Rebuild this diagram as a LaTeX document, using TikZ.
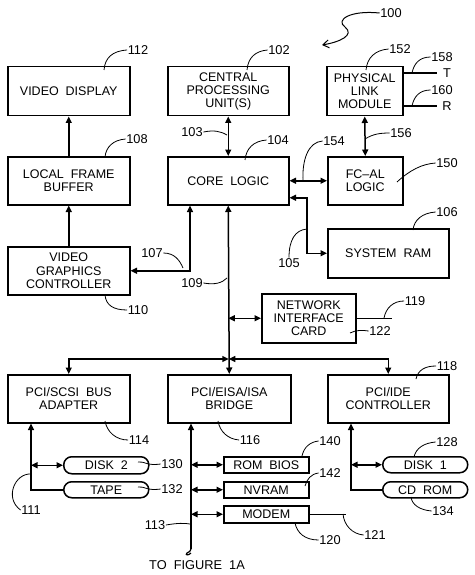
\documentclass[tikz,border=0pt]{standalone}
\usepackage{fontspec}
\setmainfont{Liberation Sans}
\usetikzlibrary{arrows.meta,calc}
\newcommand\wsp{\hspace{0.55em}}
\begin{document}
\begin{tikzpicture}[x=1pt,y=-1pt, line width=1.5pt,
 box/.style={draw, line width=1.5pt, align=center, anchor=north west, inner sep=0pt, font=\fontsize{12.5}{13.3}\selectfont},
 pill/.style={box, rounded corners=8pt},
 num/.style={font=\fontsize{12.8}{13.5}\selectfont, inner sep=0pt},
 lead/.style={line width=0.8pt},
 arr/.style={-{Triangle[length=6.5pt,width=6pt]}},
 rarr/.style={{Triangle[length=6.5pt,width=6pt]}-},
 darr/.style={{Triangle[length=6.5pt,width=6pt]}-{Triangle[length=6.5pt,width=6pt]}},
]
\useasboundingbox (0,0) rectangle (474,575);
\fill[white] (0,0) rectangle (474,575);

% boxes
\node[box, minimum width=122pt, minimum height=49pt] (vd) at (7,66) {VIDEO\wsp DISPLAY};
\node[box, minimum width=121pt, minimum height=49pt] (cpu) at (167,66) {CENTRAL\\PROCESSING\\UNIT(S)};
\node[box, minimum width=76pt, minimum height=49pt] (plm) at (326,66) {PHYSICAL\\LINK\\MODULE};
\node[box, minimum width=122pt, minimum height=48pt] (lfb) at (7,156) {LOCAL\wsp FRAME\\BUFFER};
\node[box, minimum width=121pt, minimum height=48pt] (core) at (167,156) {CORE\wsp LOGIC};
\node[box, minimum width=75pt, minimum height=48pt] (fcal) at (327,156) {FC--AL\\LOGIC};
\node[box, minimum width=121pt, minimum height=49pt] (ram) at (327,228) {SYSTEM\wsp RAM};
\node[box, minimum width=122pt, minimum height=48pt] (vgc) at (7,246) {VIDEO\\GRAPHICS\\CONTROLLER};
\node[box, minimum width=94pt, minimum height=49pt] (nic) at (261,293) {NETWORK\\INTERFACE\\CARD};
\node[box, minimum width=122pt, minimum height=48pt] (scsi) at (7,374) {PCI/SCSI\wsp BUS\\ADAPTER};
\node[box, minimum width=123pt, minimum height=48pt] (bridge) at (167,374) {PCI/EISA/ISA\\BRIDGE};
\node[box, minimum width=121pt, minimum height=48pt] (ide) at (327,374) {PCI/IDE\\CONTROLLER};
\node[pill, minimum width=85pt, minimum height=17pt] (disk2) at (63,456) {DISK\wsp 2};
\node[pill, minimum width=85pt, minimum height=16pt] (tape) at (63,481) {TAPE};
\node[box, minimum width=85pt, minimum height=16pt] (rom) at (223,456) {ROM\wsp BIOS};
\node[box, minimum width=85pt, minimum height=16pt] (nvram) at (223,481) {NVRAM};
\node[box, minimum width=85pt, minimum height=17pt] (modem) at (223,505) {MODEM};
\node[pill, minimum width=85pt, minimum height=16pt] (disk1) at (382,456) {DISK\wsp 1};
\node[pill, minimum width=85pt, minimum height=16pt] (cdrom) at (382,481) {CD\wsp ROM};

% connectors
\draw[arr] (lfb.north) -- (vd.south);
\draw[arr] (vgc.north) -- (lfb.south);
\draw[darr] (cpu.south) -- (core.north);
\draw[darr] (vgc.east) -| ($(core.south west)+(23,0)$);
\draw[darr] (core.east) -- (fcal.west);
\draw[darr] ($(core.east)+(0,17)$) -| ($(ram.west)+(-20,0)$) -- (ram.west);
\draw[darr] (plm.south) -- (fcal.north);
\node[num] (T) at (447,73) {T};
\node[num] (R) at (447,106) {R};
\draw (plm.east |- T.west) -- ($(T.west)+(-5,0)$);
\draw (plm.east |- R.west) -- ($(R.west)+(-5,0)$);
\draw[darr] (core.south) -- (bridge.north);
\coordinate (junc) at ($(core.south)!0.5!(bridge.north)$);
\coordinate (junc) at (junc |- 0,359);
\draw[darr] (scsi.north) |- (junc);
\draw[darr] (ide.north) |- (junc);
\draw[darr] (nic.west) -- (nic.west -| core.south);
\coordinate (n119) at (392,318);
\draw (nic.east) -- (n119 |- nic.east);
\coordinate (s1) at ($(scsi.south west)+(24,0)$);
\draw[rarr] (s1) |- (tape.west);
\draw[darr] (s1 |- disk2.west) -- (disk2.west);
\coordinate (b1) at ($(bridge.south west)+(24,0)$);
\coordinate (bend) at (b1 |- 0,549);
\draw[rarr] (b1) -- (bend);
\draw[line width=1.2pt] (bend) .. controls ($(bend)+(0,3)$) and ($(bend)+(-2,2)$) .. ($(bend)+(-4,4)$) .. controls ($(bend)+(-6,6)$) and ($(bend)+(-3,7)$) .. ($(bend)+(0,4)$);
\draw[darr] (b1 |- rom.west) -- (rom.west);
\draw[darr] (b1 |- nvram.west) -- (nvram.west);
\draw[darr] (b1 |- modem.west) -- (modem.west);
\coordinate (m121) at (346,513);
\draw (modem.east) -- (m121 |- modem.east);
\coordinate (i1) at ($(ide.south west)+(24,0)$);
\draw[rarr] (i1) |- (cdrom.west);
\draw[darr] (i1 |- disk1.west) -- (disk1.west);

% labels and leaders
\node[num] (l100) at (391,13) {100};
\draw[line width=1pt, -{Straight Barb[length=6pt,width=8pt]}] (l100.west) .. controls (350,10) and (335,20) .. (345,27) .. controls (355,35) and (340,42) .. (322,45);
\node[num] (l112) at (138,50) {112};
\draw[lead] (104,70) .. controls (105,58) and (112,51) .. (l112.west);
\node[num] (l102) at (279,50) {102};
\draw[lead] (247,70) .. controls (248,58) and (255,51) .. (l102.west);
\node[num] (l152) at (400,49) {152};
\draw[lead] (366,70) .. controls (367,58) and (375,50) .. (l152.west);
\node[num] (l158) at (442,57) {158};
\draw[lead] (412,73) .. controls (414,63) and (420,57) .. (l158.west);
\node[num] (l160) at (442,90) {160};
\draw[lead] (412,106) .. controls (414,96) and (420,90) .. (l160.west);
\node[num] (l103) at (192,132) {103};
\draw[lead] (l103.east) .. controls (214,130) and (220,131) .. (227,135);
\node[num] (l104) at (278,140) {104};
\draw[lead] (245,160) .. controls (246,149) and (253,141) .. (l104.west);
\node[num] (l154) at (334,141) {154};
\draw[lead] (303,181) .. controls (302,160) and (308,142) .. (l154.west);
\node[num] (l156) at (401,133) {156};
\draw[lead] (365,139) .. controls (373,134) and (380,133) .. (l156.west);
\node[num] (l150) at (447,163) {150};
\draw[lead] (397,182) .. controls (410,170) and (422,164) .. (l150.west);
\node[num] (l106) at (447,212) {106};
\draw[lead] (413,230) .. controls (414,220) and (422,213) .. (l106.west);
\node[num] (l105) at (289,263) {105};
\draw[lead] (307,229) .. controls (295,230) and (289,240) .. (l105.north);
\node[num] (l108) at (137,139) {108};
\draw[lead] (105,157) .. controls (106,147) and (113,140) .. (l108.west);
\node[num] (l107) at (152,253) {107};
\draw[lead] (l107.east) .. controls (175,253) and (180,261) .. (183,268);
\node[num] (l109) at (192,283) {109};
\draw[lead] (l109.east) .. controls (215,285) and (222,283) .. (227,278);
\node[num] (l110) at (138,310) {110};
\draw[lead] (105,295) .. controls (106,305) and (113,310) .. (l110.west);
\node[num] (l119) at (415,301) {119};
\draw[lead] (384,318) .. controls (386,308) and (393,301) .. (l119.west);
\node[num] (l122) at (380,331) {122};
\draw[lead] (350,333) .. controls (356,330) and (362,330) .. (l122.west);
\node[num] (l118) at (447,366) {118};
\draw[lead] (416,379) .. controls (418,370) and (425,366) .. (l118.west);
\node[num] (l114) at (139,440) {114};
\draw[lead] (105,421) .. controls (107,432) and (116,440) .. (l114.west);
\node[num] (l116) at (250,440) {116};
\draw[lead] (218,421) .. controls (220,432) and (228,439) .. (l116.west);
\node[num] (l130) at (172,464) {130};
\draw[lead] (138,462) .. controls (145,461) and (146,466) .. (l130.west);
\node[num] (l132) at (172,489) {132};
\draw[lead] (138,487) .. controls (145,486) and (146,491) .. (l132.west);
\node[num] (l111) at (31,510) {111};
\draw[lead] (31,474) .. controls (15,473) and (4,498) .. (l111.west);
\node[num] (l113) at (155,525) {113};
\draw[lead] (l113.east) .. controls (178,523) and (184,523) .. (190,524);
\node[num] (l140) at (330,441) {140};
\draw[lead] (302,456) .. controls (304,447) and (310,442) .. (l140.west);
\node[num] (l142) at (330,473) {142};
\draw[lead] (305,486) .. controls (307,479) and (311,474) .. (l142.west);
\node[num] (l120) at (330,540) {120};
\draw[lead] (295,523) .. controls (297,533) and (305,540) .. (l120.west);
\node[num] (l121) at (375,535) {121};
\draw[lead] (343,514) .. controls (344,525) and (352,534) .. (l121.west);
\node[num] (l128) at (447,442) {128};
\draw[lead] (414,457) .. controls (416,448) and (424,443) .. (l128.west);
\node[num] (l134) at (443,511) {134};
\draw[lead] (411,497) .. controls (412,505) and (420,510) .. (l134.west);
\node[num] (fig) at (197,565) {TO\wsp FIGURE\wsp 1A};
\end{tikzpicture}
\end{document}
